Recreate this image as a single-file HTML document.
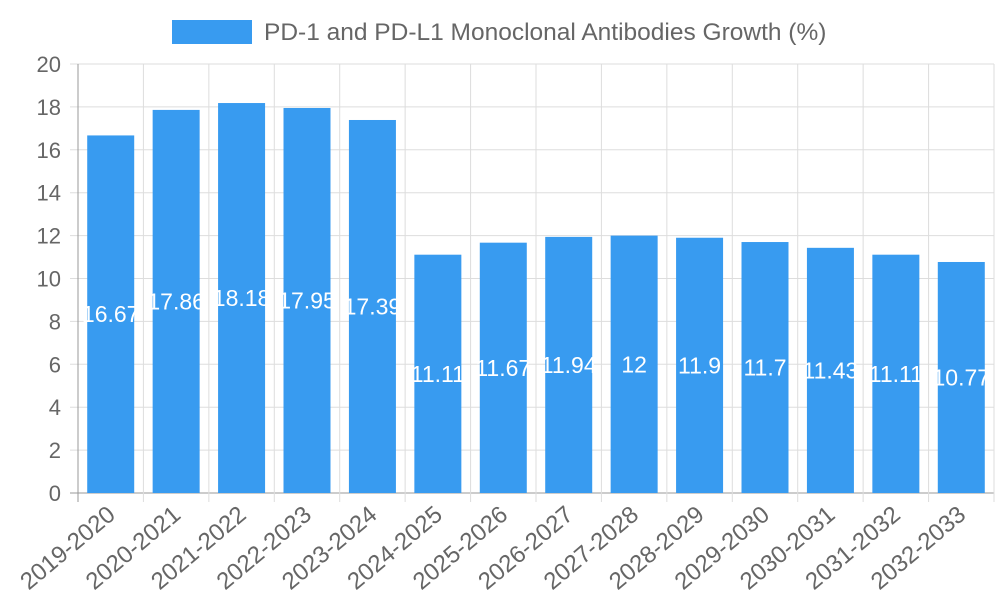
<!DOCTYPE html>
<html><head><meta charset="utf-8"><style>
html,body{margin:0;padding:0;background:#fff;}
svg text{font-family:"Liberation Sans",sans-serif;}
</style></head><body>
<svg id="chart" width="1000" height="600" xmlns="http://www.w3.org/2000/svg">
<g>
<rect x="172" y="20" width="80" height="24" fill="#389bf0"/>
<text x="264" y="40" font-size="24.5" fill="#666">PD-1 and PD-L1 Monoclonal Antibodies Growth (%)</text>
</g>
<g id="grid"></g><g id="bars"></g><g id="labels"></g><g id="axes"></g>
</svg>
<script>
const categories=["2019-2020","2020-2021","2021-2022","2022-2023","2023-2024","2024-2025","2025-2026","2026-2027","2027-2028","2028-2029","2029-2030","2030-2031","2031-2032","2032-2033"];
const values=[16.67,17.86,18.18,17.95,17.39,11.11,11.67,11.94,12,11.9,11.7,11.43,11.11,10.77];
const yTicks=[0,2,4,6,8,10,12,14,16,18,20];
const NS="http://www.w3.org/2000/svg";
const L=78,R=994,T=64,B=493,yMax=20;
const y=v=>B-(v/yMax)*(B-T);
const band=(R-L)/categories.length;
const x=i=>L+band*i;
function mk(tag,attrs,parent,txt){const e=document.createElementNS(NS,tag);for(const k in attrs)e.setAttribute(k,attrs[k]);if(txt!==undefined)e.textContent=txt;parent.appendChild(e);return e;}
const grid=document.getElementById('grid'),bars=document.getElementById('bars'),labels=document.getElementById('labels'),axes=document.getElementById('axes');
yTicks.forEach(t=>{
 const g=mk('line',{x1:70,x2:R,y1:y(t),y2:y(t),stroke:t===0?'#999':'#ddd','stroke-width':1},grid);
 
 
 const tx=mk('text',{x:61,y:y(t)+8,'font-size':22,fill:'#666','text-anchor':'end'},axes,String(t));
 
 
});
for(let i=0;i<=categories.length;i++){
 const g=mk('line',{x1:x(i),x2:x(i),y1:T,y2:B+9,stroke:i===0?'#999':'#ddd','stroke-width':1},grid);
 
 
}
const bw=47;
categories.forEach((c,i)=>{
 const cx=x(i)+band/2;
 const r=mk('rect',{x:cx-bw/2,y:y(values[i]),width:bw,height:B-y(values[i]),fill:'#389bf0'},bars);
 
 
 const lb=mk('text',{x:cx,y:(y(values[i])+B)/2+8,'font-size':23,fill:'#fff','text-anchor':'middle'},labels,String(values[i]));
 
 
 const xl=mk('text',{x:cx+6,y:B+24,'font-size':24,fill:'#666','text-anchor':'end',transform:`rotate(-40 ${cx+6} ${B+24})`},axes,c);
 
 
});
</script>
</body></html>
